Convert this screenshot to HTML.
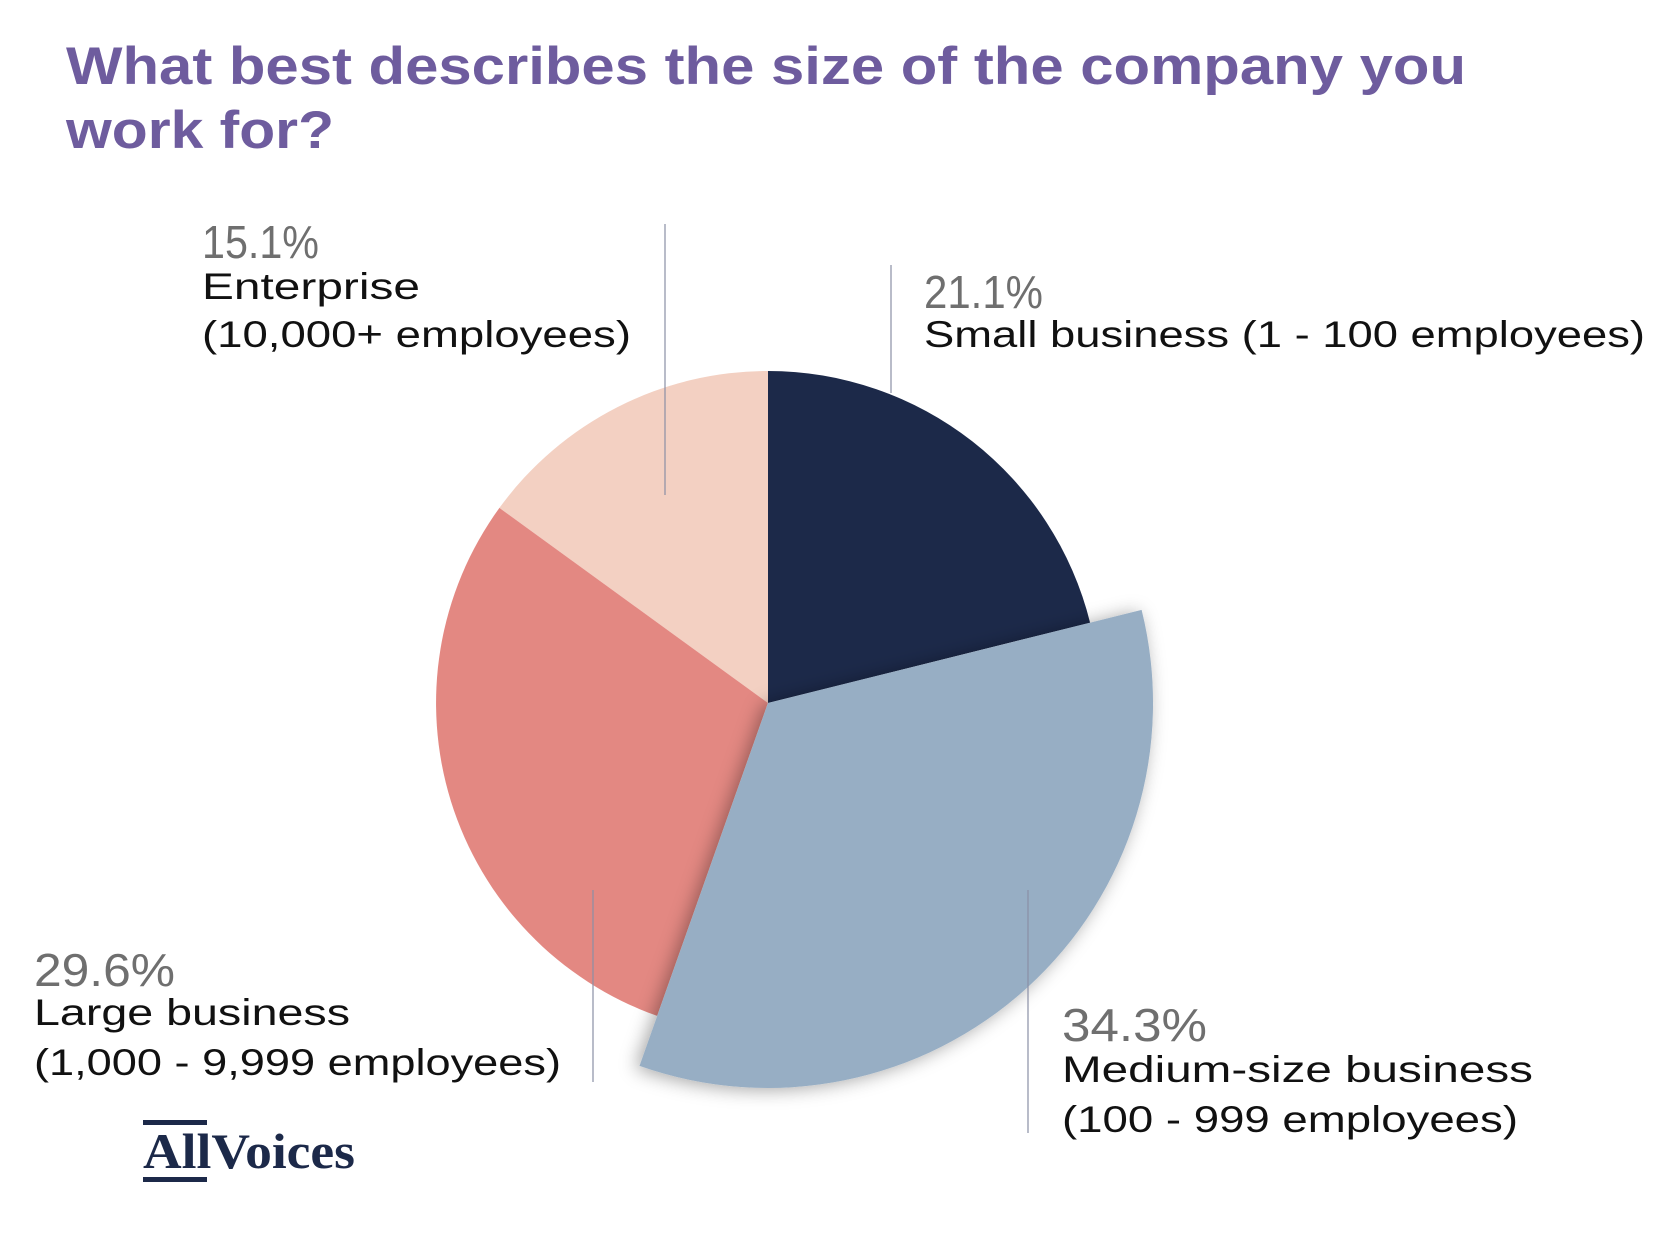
<!DOCTYPE html>
<html><head><meta charset="utf-8"><style>
html,body{margin:0;padding:0;background:#fff;}
svg{display:block;}
</style></head><body>
<svg width="1667" height="1250" viewBox="0 0 1667 1250" xmlns="http://www.w3.org/2000/svg">
<defs>
<filter id="sh" x="-20%" y="-20%" width="140%" height="140%">
<feDropShadow dx="-4" dy="2" stdDeviation="9" flood-color="#000" flood-opacity="0.35"/>
</filter>
</defs>
<g font-family="Liberation Sans, sans-serif" font-weight="bold" fill="#6e5c9e" font-size="53">
<text x="66" y="84" textLength="1400" lengthAdjust="spacingAndGlyphs">What best describes the size of the company you</text>
<text x="66" y="148" textLength="268" lengthAdjust="spacingAndGlyphs">work for?</text>
</g>
<g transform="translate(-3,-2)">
<path d="M771,705 L771,373 A332,332 0 0 1 1093.1,624.7 Z" fill="#1c2949"/>
<path d="M771,705 L502.4,509.9 A332,332 0 0 1 771,373 Z" fill="#f3d0c2"/>
<path d="M771,705 L660.2,1017.9 A332,332 0 0 1 502.4,509.9 Z" fill="#e38882"/>
<path d="M771,705 L1144.6,611.9 A385,385 0 0 1 642.5,1067.9 Z" fill="#97aec4" filter="url(#sh)"/>
<g stroke="#8a8fa5" stroke-width="1.2">
<line x1="668" y1="226" x2="668" y2="497"/>
<line x1="894" y1="267" x2="894" y2="395"/>
<line x1="596" y1="892" x2="596" y2="1084"/>
<line x1="1031" y1="892" x2="1031" y2="1135"/>
</g>
<g font-family="Liberation Sans, sans-serif" fill="#6f6f6f" font-size="46">
<text x="205" y="260" textLength="117" lengthAdjust="spacingAndGlyphs">15.1%</text>
<text x="927" y="310" textLength="119" lengthAdjust="spacingAndGlyphs">21.1%</text>
<text x="37" y="988" textLength="141" lengthAdjust="spacingAndGlyphs">29.6%</text>
<text x="1065" y="1043" textLength="145" lengthAdjust="spacingAndGlyphs">34.3%</text>
</g>
<g font-family="Liberation Sans, sans-serif" fill="#111" font-size="37">
<text x="205" y="301" textLength="218" lengthAdjust="spacingAndGlyphs">Enterprise</text>
<text x="205" y="349" textLength="429" lengthAdjust="spacingAndGlyphs">(10,000+ employees)</text>
<text x="927" y="349" textLength="721" lengthAdjust="spacingAndGlyphs">Small business (1 - 100 employees)</text>
<text x="37" y="1027" textLength="316" lengthAdjust="spacingAndGlyphs">Large business</text>
<text x="37" y="1077" textLength="527" lengthAdjust="spacingAndGlyphs">(1,000 - 9,999 employees)</text>
<text x="1065" y="1084" textLength="471" lengthAdjust="spacingAndGlyphs">Medium-size business</text>
<text x="1065" y="1134" textLength="456" lengthAdjust="spacingAndGlyphs">(100 - 999 employees)</text>
</g>
<rect x="146" y="1122" width="64" height="5" fill="#1c2949"/>
<rect x="146" y="1179" width="64" height="5" fill="#1c2949"/>
<text x="146" y="1170" font-family="Liberation Serif, serif" font-weight="bold" font-size="50" fill="#1c2949" textLength="212" lengthAdjust="spacingAndGlyphs">AllVoices</text>
</g>
</svg>
</body></html>
